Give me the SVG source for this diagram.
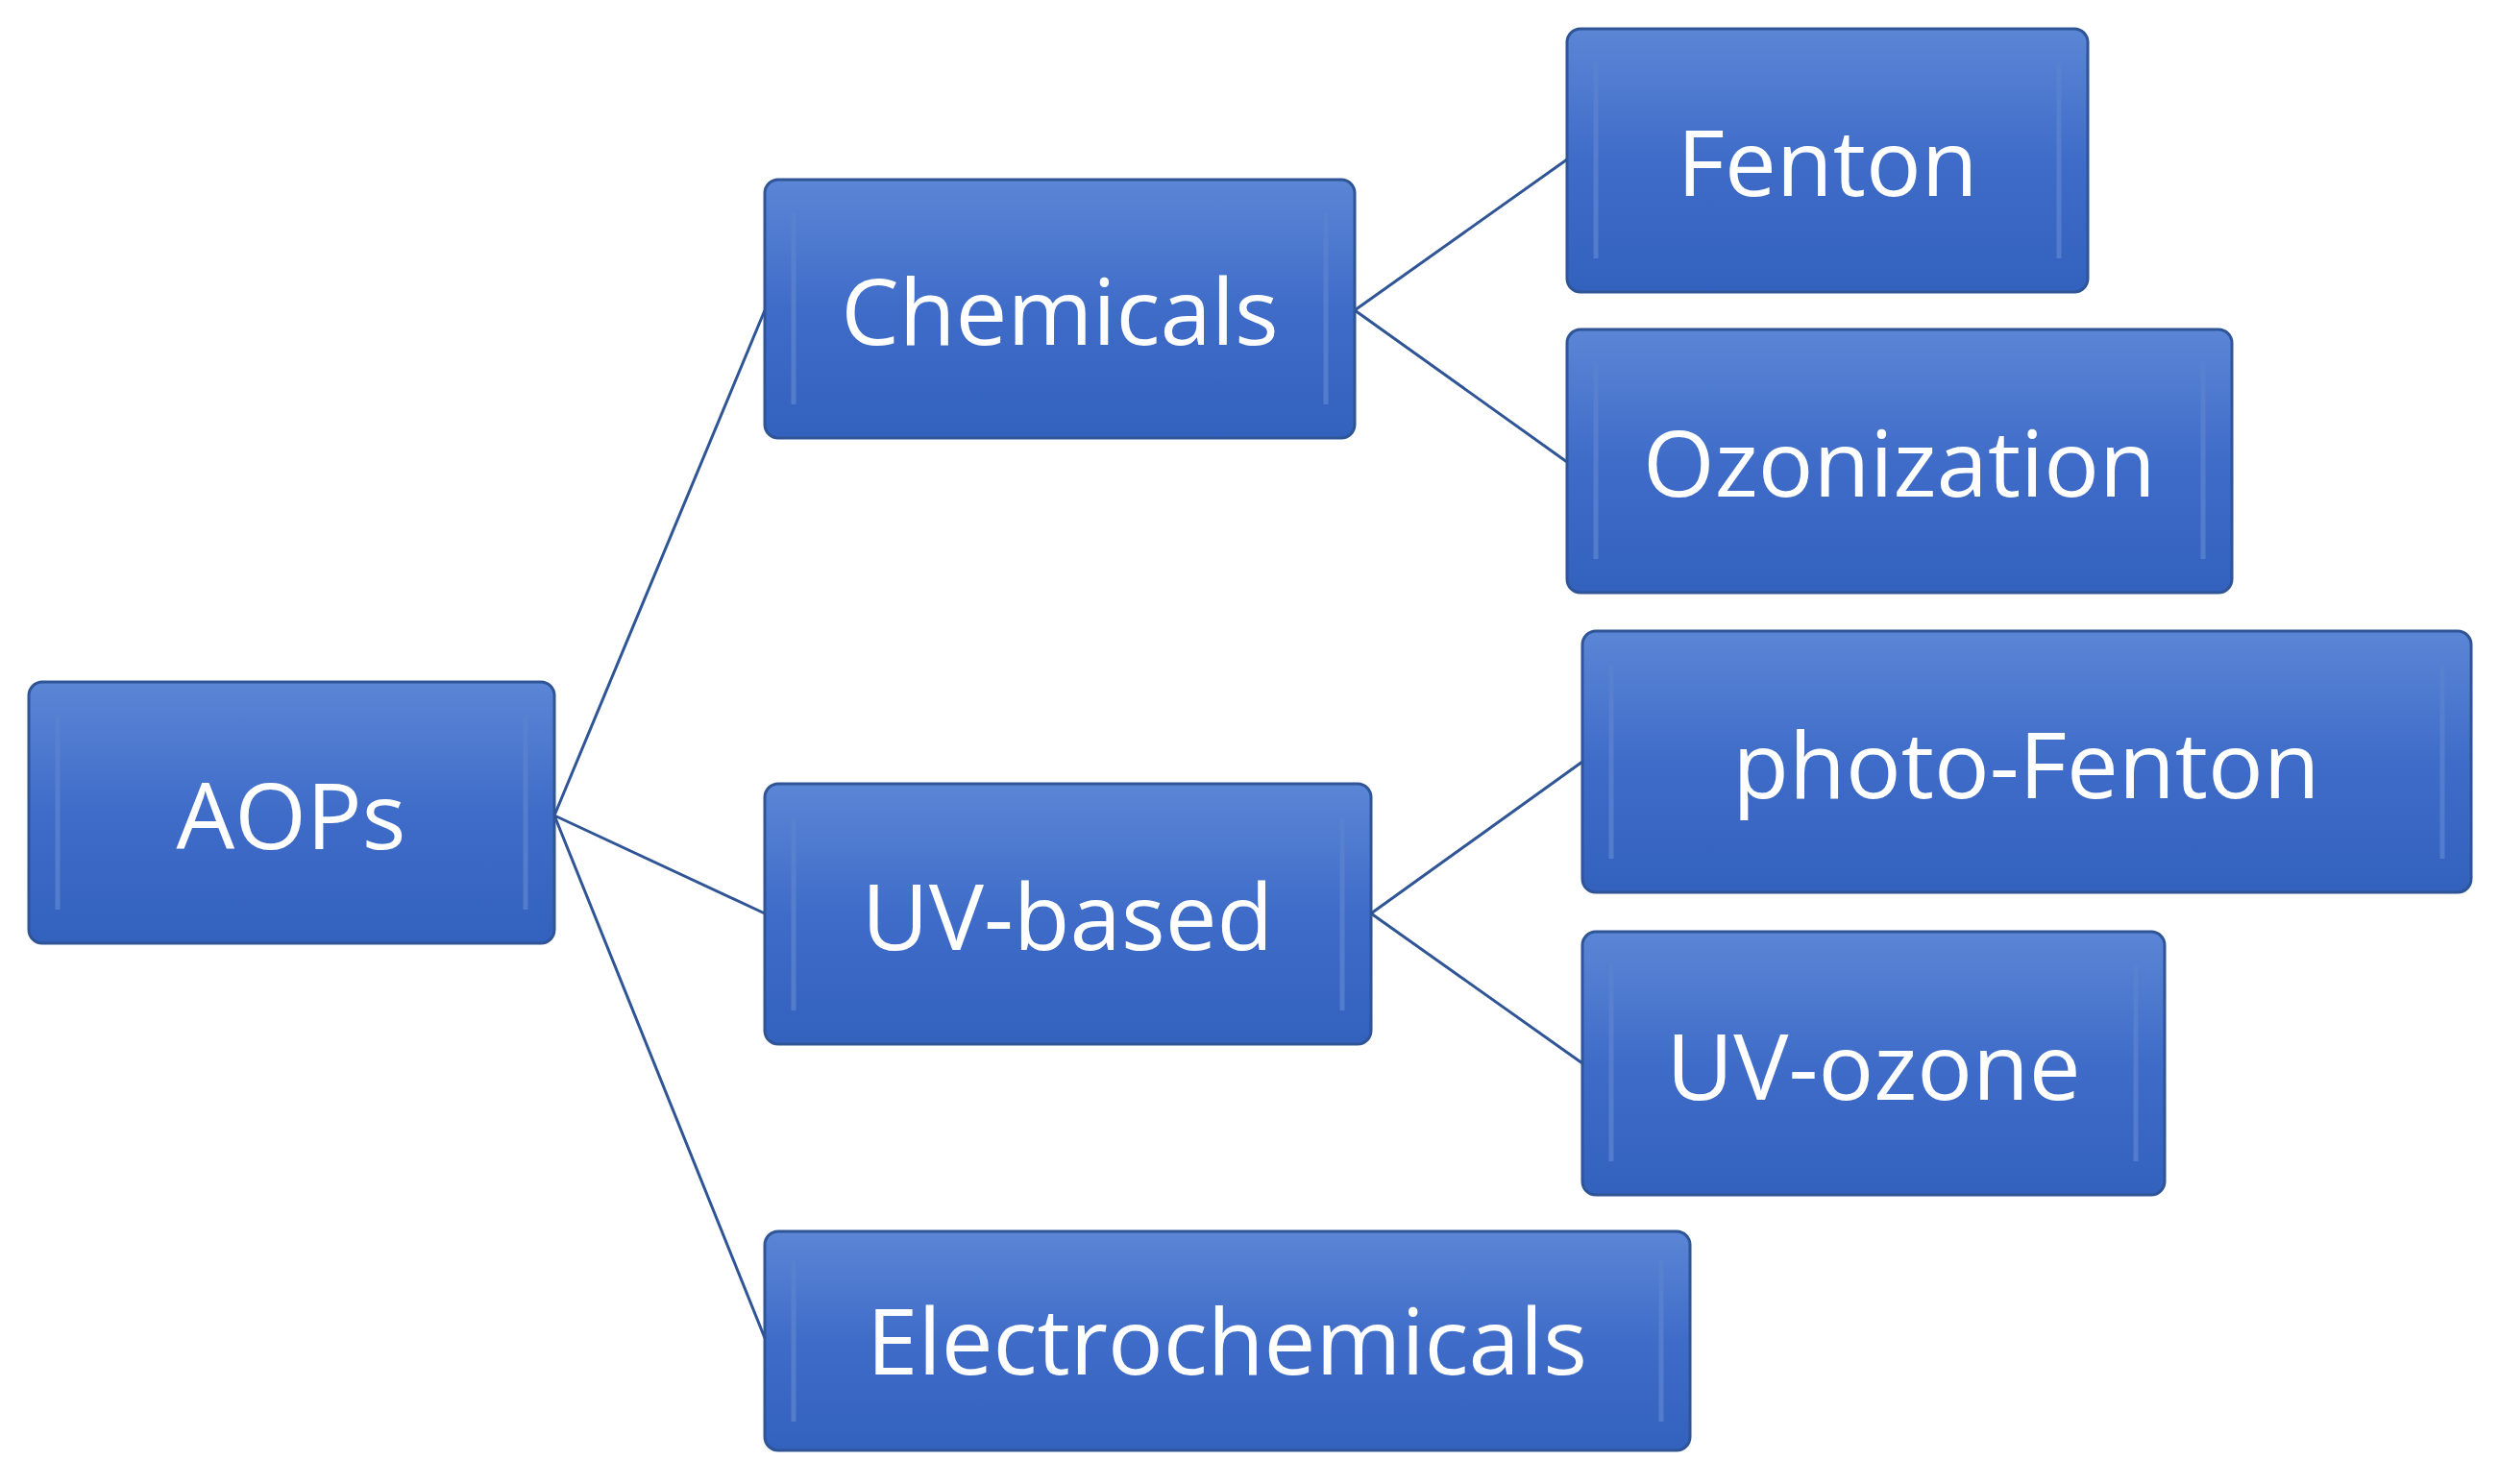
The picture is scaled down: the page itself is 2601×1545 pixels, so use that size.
<svg xmlns="http://www.w3.org/2000/svg" width="2601" height="1545" viewBox="0 0 2601 1545">
<defs>
<linearGradient id="g" x1="0" y1="0" x2="0" y2="1">
<stop offset="0" stop-color="#5B86D6"/><stop offset="0.5" stop-color="#3F6CC8"/><stop offset="1" stop-color="#3361BE"/>
</linearGradient>
</defs>
<style>
.b{fill:url(#g);stroke:#2F5597;stroke-width:3}
.e{fill:none;stroke:#5A82CF;stroke-width:5;opacity:0.8}
.t{font-family:"Open Sans","Liberation Sans",sans-serif;font-size:96px;fill:#fff;text-anchor:middle;dominant-baseline:central}
.c{stroke:#2F5597;stroke-width:3;fill:none}
</style>
<g id="connectors">
<path class="c" d="M577 849L796 323M577 849L796 951M577 849L796 1393M1410 323L1631 166M1410 323L1631 481M1427 951L1647 793M1427 951L1647 1107"/>
</g>
<g id="aops"><rect class="b" x="30" y="710" width="547" height="272" rx="14"/><path class="e" d="M60 745V947M547 745V947"/><text class="t" x="303" y="846">AOPs</text></g>
<g id="chemicals"><rect class="b" x="796" y="187" width="614" height="269" rx="14"/><path class="e" d="M826 222V421M1380 222V421"/><text class="t" x="1103" y="321">Chemicals</text></g>
<g id="uvbased"><rect class="b" x="796" y="816" width="631" height="271" rx="14"/><path class="e" d="M826 851V1052M1397 851V1052"/><text class="t" x="1111" y="951">UV-based</text></g>
<g id="electro"><rect class="b" x="796" y="1282" width="963" height="228" rx="14"/><path class="e" d="M826 1312V1480M1729 1312V1480"/><text class="t" x="1277" y="1393">Electrochemicals</text></g>
<g id="fenton"><rect class="b" x="1631" y="30" width="542" height="274" rx="14"/><path class="e" d="M1661 65V269M2143 65V269"/><text class="t" x="1902" y="166">Fenton</text></g>
<g id="ozonization"><rect class="b" x="1631" y="343" width="692" height="274" rx="14"/><path class="e" d="M1661 378V582M2293 378V582"/><text class="t" x="1977" y="479">Ozonization</text></g>
<g id="photofenton"><rect class="b" x="1647" y="657" width="925" height="272" rx="14"/><path class="e" d="M1677 692V894M2542 692V894"/><text class="t" x="2109" y="793">photo-Fenton</text></g>
<g id="uvozone"><rect class="b" x="1647" y="970" width="606" height="274" rx="14"/><path class="e" d="M1677 1005V1209M2223 1005V1209"/><text class="t" x="1950" y="1107">UV-ozone</text></g>
</svg>
